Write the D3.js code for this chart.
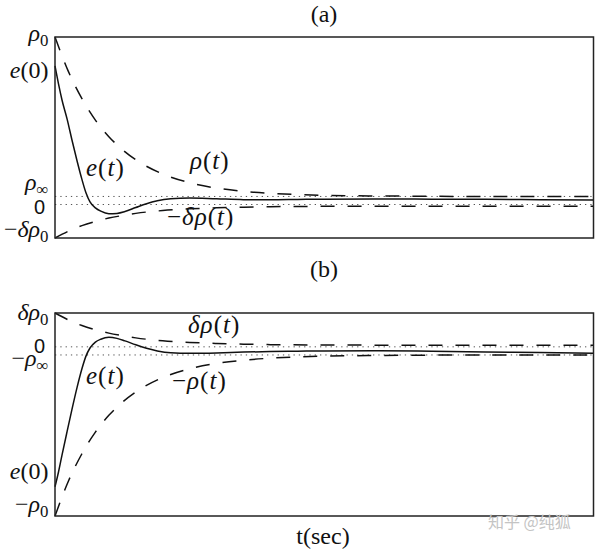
<!DOCTYPE html>
<html><head><meta charset="utf-8">
<script src="https://cdn.jsdelivr.net/npm/d3@7"></script>
<style>body{margin:0;background:#fff}</style>
</head><body>
<svg id="chart" width="600" height="552"></svg>
<script>
// ---------- DATA ----------
const tRho = [0, 0.5, 1, 1.5, 2, 2.5, 3, 4, 5, 6, 7, 8, 10, 12, 14, 16, 18, 20];
const rhoA = [1.000, 0.793, 0.632, 0.504, 0.405, 0.328, 0.267, 0.182, 0.130, 0.098, 0.079, 0.067, 0.055, 0.051, 0.049, 0.048, 0.048, 0.048];
const negDeltaRhoA = [-0.200, -0.159, -0.126, -0.101, -0.081, -0.066, -0.053, -0.036, -0.026, -0.020, -0.016, -0.013, -0.011, -0.010, -0.010, -0.010, -0.010, -0.010];
const negRhoB = [-1.000, -0.793, -0.632, -0.504, -0.405, -0.328, -0.267, -0.182, -0.130, -0.098, -0.079, -0.067, -0.055, -0.051, -0.049, -0.048, -0.048, -0.048];
const deltaRhoB = [0.200, 0.159, 0.126, 0.101, 0.081, 0.066, 0.053, 0.036, 0.026, 0.020, 0.016, 0.013, 0.011, 0.010, 0.010, 0.010, 0.010, 0.010];

const tE = [0, 0.13, 0.26, 0.45, 0.63, 0.82, 1.0, 1.15, 1.3, 1.5, 1.7, 2.0, 2.3, 2.6, 3.0, 3.4, 3.8, 4.3, 5.0, 6.0, 7.0, 8.0, 9.0, 10, 12, 14, 16, 18, 20];
const eA = [0.827, 0.72, 0.624, 0.51, 0.385, 0.26, 0.15, 0.07, 0.015, -0.02, -0.04, -0.055, -0.053, -0.042, -0.018, 0.005, 0.022, 0.034, 0.039, 0.034, 0.029, 0.028, 0.030, 0.032, 0.033, 0.032, 0.031, 0.029, 0.027];
const eB = [-0.827, -0.74, -0.64, -0.50, -0.37, -0.24, -0.13, -0.055, -0.007, 0.028, 0.045, 0.056, 0.05, 0.035, 0.012, -0.008, -0.024, -0.035, -0.038, -0.036, -0.031, -0.028, -0.026, -0.024, -0.023, -0.026, -0.030, -0.034, -0.038];

const rhoInf = 0.048;
const tickValsA = [1, 0.8, rhoInf, 0, -0.2];
const tickLabelsA = [
  [{t:'ρ',i:1},{t:'0',s:1}],
  [{t:'e',i:1},{t:'(0)'}],
  [{t:'ρ',i:1},{t:'∞',s:1}],
  'ZERO',
  [{t:'−'},{t:'δρ',i:1},{t:'0',s:1}]
];
const tickValsB = [0.2, 0, -rhoInf, -0.75, -1];
const tickLabelsB = [
  [{t:'δρ',i:1},{t:'0',s:1}],
  'ZERO',
  [{t:'−'},{t:'ρ',i:1},{t:'∞',s:1}],
  [{t:'e',i:1},{t:'(0)'}],
  [{t:'−'},{t:'ρ',i:1},{t:'0',s:1}]
];
const gridValsA = [0, rhoInf];
const gridValsB = [0, -rhoInf];

// ---------- LAYOUT ----------
const svg = d3.select('#chart');
const X0 = 55, X1 = 593.5;
const x = d3.scaleLinear().domain([0, 20]).range([X0, X1]);
const yA = d3.scaleLinear().domain([-0.2, 1]).range([238, 37]);
const yB = d3.scaleLinear().domain([-1, 0.2]).range([516, 313]);
const tickOffA = [4, 7.5, -6, 9, -1];
const tickOffB = [7, 6, 11, 5.3, -4];

const SERIF = '"Liberation Serif"';
const SANS = '"Liberation Sans"';

function mathText(g, px, py, parts, size, anchor) {
  const t = g.append('text').attr('x', px).attr('y', py)
    .style('font-family', SERIF).style('font-size', size + 'px')
    .attr('text-anchor', anchor || 'start').attr('fill', '#111');
  let inSub = false;
  parts.forEach(p => {
    const ts = t.append('tspan').text(p.t);
    if (p.i) ts.style('font-style', 'italic');
    if (p.s) { ts.style('font-size', (size * 0.7) + 'px').attr('dy', inSub ? 0 : size * 0.2); inSub = true; }
    else if (inSub) { ts.attr('dy', -size * 0.2); inSub = false; }
  });
  return t;
}

function panel(y, tickVals, tickLabels, tickOff, gridVals, series) {
  const g = svg.append('g');
  gridVals.forEach(v => {
    g.append('line').attr('x1', X0).attr('x2', X1).attr('y1', y(v)).attr('y2', y(v))
      .attr('stroke', '#555').attr('stroke-width', 1).attr('stroke-dasharray', '1.3,4');
  });
  series.forEach(s => {
    const line = d3.line().x((d, i) => x(s.t[i])).y(d => y(d)).curve(d3.curveMonotoneX);
    g.append('path').datum(s.v).attr('d', line).attr('fill', 'none')
      .attr('stroke', '#111').attr('stroke-width', 1.5)
      .attr('stroke-dasharray', s.dash ? '14,13' : null);
  });
  g.append('rect').attr('x', X0).attr('y', y.range()[1]).attr('width', X1 - X0)
    .attr('height', y.range()[0] - y.range()[1]).attr('fill', 'none')
    .attr('stroke', '#222').attr('stroke-width', 1.5);
  tickVals.forEach((v, i) => {
    const lab = tickLabels[i];
    const py = y(v) + tickOff[i];
    if (lab === 'ZERO') {
      g.append('text').attr('x', 45).attr('y', py).attr('text-anchor', 'end')
        .style('font-family', SANS).style('font-size', '20px').attr('fill', '#111').text('0');
    } else {
      mathText(g, 48.5, py, lab, 24, 'end');
    }
  });
  return g;
}

const gA = panel(yA, tickValsA, tickLabelsA, tickOffA, gridValsA, [
  {t: tRho, v: rhoA, dash: true},
  {t: tRho, v: negDeltaRhoA, dash: true},
  {t: tE, v: eA, dash: false}
]);
const gB = panel(yB, tickValsB, tickLabelsB, tickOffB, gridValsB, [
  {t: tRho, v: deltaRhoB, dash: true},
  {t: tRho, v: negRhoB, dash: true},
  {t: tE, v: eB, dash: false}
]);

// curve labels
const E_T = [{t:'e',i:1},{t:'('},{t:'t',i:1},{t:')'}];
mathText(gA, 86, 176, E_T, 25).attr('letter-spacing', 1);
mathText(gA, 190, 169, [{t:'ρ',i:1},{t:'('},{t:'t',i:1},{t:')'}], 25).attr('letter-spacing', 1);
mathText(gA, 167, 225, [{t:'−'},{t:'δρ',i:1},{t:'('},{t:'t',i:1},{t:')'}], 25).attr('letter-spacing', 1);
mathText(gB, 188, 333, [{t:'δρ',i:1},{t:'('},{t:'t',i:1},{t:')'}], 25).attr('letter-spacing', 1);
mathText(gB, 86, 384, E_T, 25).attr('letter-spacing', 1);
mathText(gB, 172, 389, [{t:'−'},{t:'ρ',i:1},{t:'('},{t:'t',i:1},{t:')'}], 25).attr('letter-spacing', 1);

// titles
function plain(px, py, txt, size) {
  return svg.append('text').attr('x', px).attr('y', py).attr('text-anchor', 'middle')
    .style('font-family', SERIF).style('font-size', size + 'px').attr('fill', '#111').text(txt);
}
plain(324, 22, '(a)', 24);
plain(324, 277, '(b)', 24);
plain(323, 544, 't(sec)', 24);
svg.append('text').attr('x', 488).attr('y', 528)
  .style('font-family', '"Noto Sans CJK SC"').style('font-size', '16px')
  .attr('fill', '#c4c4c4').text('知乎 @纯狐');
</script>
</body></html>
